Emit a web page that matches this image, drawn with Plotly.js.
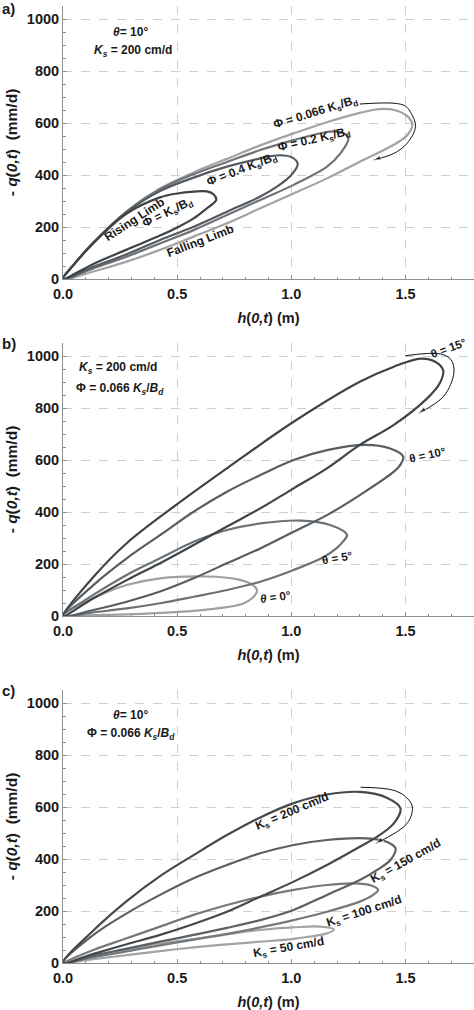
<!DOCTYPE html>
<html><head><meta charset="utf-8">
<script src="https://cdn.plot.ly/plotly-3.0.1.min.js"></script>
<style>html,body{margin:0;padding:0;background:#fff}#chart{width:474px;height:1010px}</style>
</head><body><div id="chart"></div>
<script>
// ---------- tick labels ----------
const xTickVals = [0, 0.5, 1.0, 1.5];
const xTickText = ['0.0', '0.5', '1.0', '1.5'];
const yTickVals = [0, 200, 400, 600, 800, 1000];
const yTickText = ['0', '200', '400', '600', '800', '1000'];

// ---------- panel a: theta = 10 deg, Ks = 200 cm/d ----------
const aPhi066H = [0, 0.05, 0.133, 0.279, 0.425, 0.572, 0.718, 0.864, 1.01, 1.156, 1.30, 1.40, 1.47, 1.515, 1.53, 1.51, 1.46, 1.30, 1.156, 1.01, 0.864, 0.718, 0.572, 0.425, 0.279, 0.133, 0];
const aPhi066Q = [0, 58, 140, 260, 348, 410, 462, 514, 560, 603, 639, 654, 645, 620, 592, 556, 522, 451, 387, 329, 272, 214, 163, 112, 67, 29, 0];
const aPhi02H = [0, 0.05, 0.133, 0.279, 0.425, 0.572, 0.718, 0.864, 1.01, 1.10, 1.186, 1.235, 1.25, 1.215, 1.156, 1.01, 0.864, 0.718, 0.572, 0.425, 0.279, 0.133, 0];
const aPhi02Q = [0, 58, 140, 259, 345, 403, 450, 496, 534, 555, 568, 558, 540, 483, 432, 362, 304, 246, 188, 137, 86, 41, 0];
const aPhi04H = [0, 0.05, 0.133, 0.279, 0.425, 0.572, 0.718, 0.864, 0.95, 1.005, 1.028, 1.0, 0.937, 0.864, 0.718, 0.572, 0.425, 0.279, 0.133, 0];
const aPhi04Q = [0, 58, 139, 257, 338, 390, 432, 464, 476, 467, 442, 400, 355, 317, 259, 201, 150, 95, 47, 0];
const aPhi1H = [0, 0.05, 0.133, 0.279, 0.425, 0.5, 0.572, 0.63, 0.66, 0.671, 0.65, 0.63, 0.572, 0.5, 0.425, 0.279, 0.133, 0];
const aPhi1Q = [0, 58, 138, 252, 314, 329, 336, 337, 325, 304, 285, 272, 233, 198, 167, 113, 58, 0];
const aArrowH = [1.30, 1.45, 1.50, 1.525, 1.544, 1.507, 1.449, 1.36];
const aArrowQ = [673, 676, 665, 637, 586, 522, 483, 458];

// ---------- panel b: Ks = 200 cm/d, Phi = 0.066 Ks/Bd ----------
const bTh15H = [0, 0.133, 0.279, 0.5, 0.718, 1.01, 1.30, 1.449, 1.566, 1.63, 1.665, 1.65, 1.595, 1.449, 1.30, 1.156, 1.01, 0.864, 0.718, 0.572, 0.425, 0.279, 0.133, 0];
const bTh15Q = [0, 150, 280, 430, 568, 747, 901, 959, 990, 978, 945, 895, 837, 735, 658, 568, 491, 414, 344, 273, 203, 138, 68, 0];
const bTh10H = [0, 0.133, 0.279, 0.425, 0.572, 0.718, 0.864, 1.01, 1.156, 1.325, 1.43, 1.49, 1.48, 1.449, 1.30, 1.156, 1.01, 0.864, 0.718, 0.572, 0.425, 0.279, 0.133, 0];
const bTh10Q = [0, 119, 222, 311, 401, 478, 542, 600, 638, 658, 645, 613, 585, 555, 465, 388, 324, 260, 203, 145, 94, 55, 23, 0];
const bTh5H = [0, 0.133, 0.279, 0.425, 0.572, 0.718, 0.864, 1.04, 1.17, 1.244, 1.225, 1.20, 1.14, 1.01, 0.864, 0.718, 0.572, 0.425, 0.279, 0.133, 0];
const bTh5Q = [0, 81, 158, 222, 286, 331, 356, 367, 350, 312, 285, 262, 226, 177, 132, 100, 74, 49, 29, 14, 0];
const bTh0H = [0, 0.133, 0.279, 0.425, 0.63, 0.76, 0.83, 0.85, 0.83, 0.79, 0.718, 0.572, 0.425, 0.279, 0.133, 0];
const bTh0Q = [0, 68, 119, 145, 152, 142, 120, 98, 70, 48, 34, 20, 12, 6, 3, 0];
const bArrowH = [1.50, 1.653, 1.70, 1.712, 1.668, 1.558];
const bArrowQ = [1001, 1008, 985, 936, 846, 780];

// ---------- panel c: theta = 10 deg, Phi = 0.066 Ks/Bd ----------
const cKs200H = [0, 0.133, 0.279, 0.425, 0.572, 0.718, 0.864, 1.01, 1.156, 1.30, 1.42, 1.478, 1.449, 1.376, 1.30, 1.156, 1.01, 0.864, 0.718, 0.572, 0.425, 0.279, 0.133, 0];
const cKs200Q = [0, 125, 238, 334, 415, 492, 560, 615, 648, 658, 635, 595, 537, 486, 447, 377, 313, 255, 197, 150, 108, 72, 35, 0];
const cKs150H = [0, 0.133, 0.279, 0.425, 0.572, 0.718, 0.864, 1.01, 1.156, 1.33, 1.42, 1.456, 1.434, 1.376, 1.30, 1.156, 1.01, 0.864, 0.718, 0.572, 0.425, 0.279, 0.133, 0];
const cKs150Q = [0, 108, 191, 262, 326, 377, 422, 454, 473, 479, 465, 441, 396, 358, 319, 262, 204, 165, 135, 108, 82, 55, 28, 0];
const cKs100H = [0, 0.133, 0.279, 0.425, 0.572, 0.718, 0.864, 1.01, 1.156, 1.273, 1.35, 1.38, 1.346, 1.30, 1.156, 1.01, 0.864, 0.718, 0.572, 0.425, 0.279, 0.133, 0];
const cKs100Q = [0, 50, 95, 140, 185, 223, 255, 281, 300, 306, 298, 281, 255, 236, 197, 165, 137, 112, 90, 68, 45, 22, 0];
const cKs50H = [0, 0.133, 0.279, 0.425, 0.572, 0.718, 0.864, 1.01, 1.127, 1.186, 1.156, 1.083, 1.01, 0.864, 0.718, 0.572, 0.425, 0.279, 0.133, 0];
const cKs50Q = [0, 31, 52, 75, 92, 110, 127, 137, 140, 129, 114, 102, 93, 82, 72, 60, 46, 30, 15, 0];
const cArrowH = [1.303, 1.445, 1.50, 1.53, 1.507, 1.37];
const cArrowQ = [676, 665, 640, 601, 537, 460];

// ---------- styling ----------
const FONT = 'Liberation Sans, Arial, Helvetica, sans-serif';
const TXT = '#1a1a1a';
function loop(h, q, color, xa, ya) {
  return {x: h, y: q, xaxis: xa, yaxis: ya, type: 'scatter', mode: 'lines',
    line: {color: color, width: 2.2, shape: 'spline', smoothing: 1}, hoverinfo: 'skip'};
}
function arrow(h, q, xa, ya) {
  const sizes = h.map((v, i) => i === h.length - 1 ? 8 : 0);
  return {x: h, y: q, xaxis: xa, yaxis: ya, type: 'scatter', mode: 'lines+markers',
    line: {color: '#111', width: 1, shape: 'spline', smoothing: 1},
    marker: {symbol: 'arrow', size: sizes, color: '#111', angleref: 'previous'},
    hoverinfo: 'skip', cliponaxis: false};
}

const data = [
  loop(aPhi066H, aPhi066Q, '#a3a3a3', 'x', 'y'),
  loop(aPhi02H, aPhi02Q, '#6f7377', 'x', 'y'),
  loop(aPhi04H, aPhi04Q, '#555a5e', 'x', 'y'),
  loop(aPhi1H, aPhi1Q, '#3e4347', 'x', 'y'),
  arrow(aArrowH, aArrowQ, 'x', 'y'),
  loop(bTh0H, bTh0Q, '#a0a0a0', 'x2', 'y2'),
  loop(bTh5H, bTh5Q, '#6d7276', 'x2', 'y2'),
  loop(bTh10H, bTh10Q, '#575d61', 'x2', 'y2'),
  loop(bTh15H, bTh15Q, '#3f4448', 'x2', 'y2'),
  arrow(bArrowH, bArrowQ, 'x2', 'y2'),
  loop(cKs50H, cKs50Q, '#a3a3a3', 'x3', 'y3'),
  loop(cKs100H, cKs100Q, '#75797c', 'x3', 'y3'),
  loop(cKs150H, cKs150Q, '#5b6064', 'x3', 'y3'),
  loop(cKs200H, cKs200Q, '#45494c', 'x3', 'y3'),
  arrow(cArrowH, cArrowQ, 'x3', 'y3')
];

const H = 1010;
function yd(pBottom, pTop) { return [1 - pBottom / H, 1 - pTop / H]; }
const xDomain = [63 / 474, 1];

function xAxis(anchor) {
  return {domain: xDomain, anchor: anchor, range: [0, 1.8], tickmode: 'array',
    tickvals: xTickVals, ticktext: xTickText, showgrid: true, gridcolor: '#cfcfcf',
    griddash: 'dash', gridwidth: 1, zeroline: false, showline: true, linecolor: '#8f8f8f',
    linewidth: 1, ticks: 'inside', ticklen: 4, tickcolor: '#8f8f8f', ticklabelstandoff: 2,
    minor: {tickmode: 'linear', tick0: 0, dtick: 0.1, ticks: 'inside', ticklen: 2.5, tickcolor: '#8f8f8f', showgrid: false},
    tickfont: {family: FONT, size: 14.5, color: TXT, weight: 'bold'},
    title: {text: '<b><i>h</i>(<i>0,t</i>) (m)</b>', font: {family: FONT, size: 14.5, color: TXT}, standoff: 11},
    automargin: false, fixedrange: true};
}
function yAxis(anchor, dom) {
  return {domain: dom, anchor: anchor, range: [0, 1050], tickmode: 'array',
    tickvals: yTickVals, ticktext: yTickText, showgrid: true, gridcolor: '#cfcfcf',
    griddash: 'dash', gridwidth: 1, zeroline: false, showline: true, linecolor: '#8f8f8f',
    linewidth: 1, ticks: 'inside', ticklen: 4, tickcolor: '#8f8f8f',
    minor: {tickmode: 'linear', tick0: 0, dtick: 50, ticks: 'inside', ticklen: 2.5, tickcolor: '#8f8f8f', showgrid: false},
    tickfont: {family: FONT, size: 14.5, color: TXT, weight: 'bold'},
    title: {text: '<b>- <i>q</i>(<i>0,t</i>)  (mm/d)</b>', font: {family: FONT, size: 15.5, color: TXT}, standoff: 5},
    automargin: false, fixedrange: true};
}

function lab(text, x, y, xr, yr, ang, size) {
  return {text: '<b>' + text + '</b>', x: x, y: y, xref: xr, yref: yr, showarrow: false,
    textangle: ang || 0, font: {family: FONT, size: size || 12, color: TXT},
    xanchor: 'center', yanchor: 'middle'};
}
const KsBd = 'K<sub>s</sub>/B<sub>d</sub>';
const KsBdI = '<i>K<sub>s</sub></i>/<i>B<sub>d</sub></i>';
const annotations = [
  // panel letters
  {text: '<b>a)</b>', x: 0, y: 1 - 8 / H, xref: 'paper', yref: 'paper', xanchor: 'left', yanchor: 'middle', showarrow: false, font: {family: FONT, size: 15, color: TXT}},
  {text: '<b>b)</b>', x: 0, y: 1 - 343 / H, xref: 'paper', yref: 'paper', xanchor: 'left', yanchor: 'middle', showarrow: false, font: {family: FONT, size: 15, color: TXT}},
  {text: '<b>c)</b>', x: 0, y: 1 - 690 / H, xref: 'paper', yref: 'paper', xanchor: 'left', yanchor: 'middle', showarrow: false, font: {family: FONT, size: 15, color: TXT}},
  // panel a
  lab('<i>θ</i>= 10°', 0.294, 950, 'x', 'y', 0, 12),
  lab('<i>K<sub>s</sub></i> = 200 cm/d', 0.307, 877, 'x', 'y', 0, 12),
  lab('Rising Limb', 0.315, 230, 'x', 'y', -33, 12),
  lab('Φ = ' + KsBd, 0.46, 252, 'x', 'y', -26, 12),
  lab('Φ = 0.4 ' + KsBd, 0.784, 418, 'x', 'y', -21, 12),
  lab('Φ = 0.2 ' + KsBd, 1.098, 535, 'x', 'y', -13, 12),
  lab('Φ = 0.066 ' + KsBd, 1.105, 637, 'x', 'y', -17, 12),
  lab('Falling Limb', 0.60, 146, 'x', 'y', -21, 12),
  // panel b
  lab('<i>K<sub>s</sub></i> = 200 cm/d', 0.241, 954, 'x2', 'y2', 0, 12),
  lab('Φ = 0.066 ' + KsBdI, 0.25, 873, 'x2', 'y2', 0, 12),
  lab('θ = 15°', 1.69, 1032, 'x2', 'y2', -20, 11.5),
  lab('θ = 10°', 1.595, 619, 'x2', 'y2', -12, 11.5),
  lab('θ = 5°', 1.20, 222, 'x2', 'y2', -10, 11.5),
  lab('<i>θ</i> = 0°', 0.93, 74, 'x2', 'y2', -8, 11.5),
  // panel c
  lab('<i>θ</i>= 10°', 0.294, 954, 'x3', 'y3', 0, 12),
  lab('Φ = 0.066 ' + KsBdI, 0.298, 881, 'x3', 'y3', 0, 12),
  lab('K<sub>s</sub> = 200 cm/d', 1.003, 582, 'x3', 'y3', -23, 12),
  lab('K<sub>s</sub> = 150 cm/d', 1.50, 388, 'x3', 'y3', -29, 12),
  lab('K<sub>s</sub> = 100 cm/d', 1.317, 197, 'x3', 'y3', -18, 12),
  lab('K<sub>s</sub> = 50 cm/d', 0.988, 56, 'x3', 'y3', -10, 12)
];

const layout = {
  width: 474, height: 1010, margin: {l: 0, r: 0, t: 0, b: 0},
  paper_bgcolor: '#fff', plot_bgcolor: '#fff', showlegend: false,
  font: {family: FONT, color: TXT},
  xaxis: xAxis('y'), yaxis: yAxis('x', yd(279, 6)),
  xaxis2: xAxis('y2'), yaxis2: yAxis('x2', yd(616, 343)),
  xaxis3: xAxis('y3'), yaxis3: yAxis('x3', yd(963, 690)),
  annotations: annotations
};

Plotly.newPlot('chart', data, layout, {staticPlot: true, displayModeBar: false});
</script>
</body></html>
